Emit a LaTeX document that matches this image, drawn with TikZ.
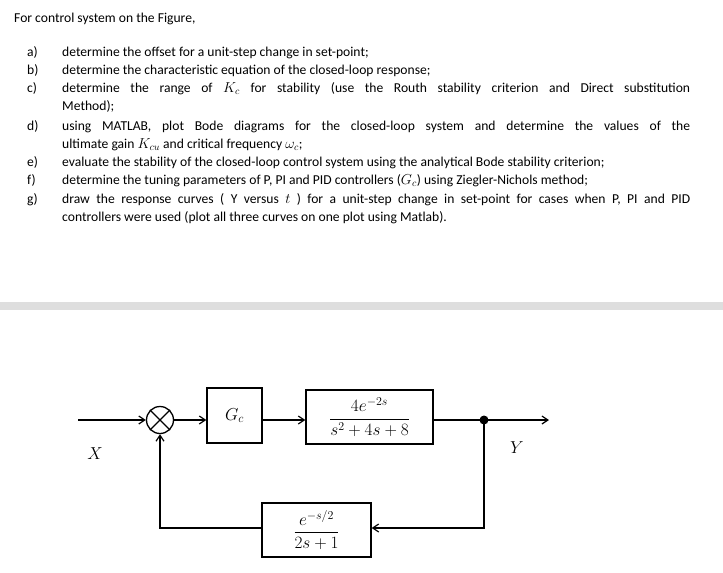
\documentclass[tikz,border=0pt]{standalone}
\usepackage{amsmath}
\usepackage{fontspec}
\setmainfont{Carlito}
\usetikzlibrary{arrows.meta}
\begin{document}
\begin{tikzpicture}[x=1pt,y=-1pt,
  txt/.style={anchor=base west,inner sep=0pt,font=\fontsize{13.6}{15}\selectfont},
  blk/.style={draw,line width=1.3pt,inner sep=0pt},
  ln/.style={line width=1.3pt},
  arr/.style={ln,-{Straight Barb[length=6pt,width=8pt,line width=1.2pt]}},
  mth/.style={font=\fontsize{18}{20}\selectfont}]
\useasboundingbox (0,0) rectangle (723,573);
\fill[black!13] (0,302) rectangle (723,310);
\node[txt] (t0) at (14,22) {For control system on the Figure,};
\def\J#1{\makebox[628pt][s]{#1}}
\foreach \l/\y in {a/56,b/74,c/92,d/130,e/166,f/184,g/203}
  \node[txt] (l\l) at (27,\y) {\l)};
\node[txt] (ta) at (62,56) {determine the offset for a unit-step change in set-point;};
\node[txt] (tb) at (62,74) {determine the characteristic equation of the closed-loop response;};
\node[txt] (tc) at (62,92) {\J{determine the range of $K_c$ for stability (use the Routh stability criterion and Direct substitution}};
\node[txt] (tc2) at (62,110) {Method);};
\node[txt] (td) at (62,130) {\J{using MATLAB, plot Bode diagrams for the closed-loop system and determine the values of the}};
\node[txt] (td2) at (62,148) {ultimate gain $K_{cu}$ and critical frequency $\omega_c$;};
\node[txt] (te) at (62,166) {evaluate the stability of the closed-loop control system using the analytical Bode stability criterion;};
\node[txt] (tf) at (62,184) {determine the tuning parameters of P, PI and PID controllers ($G_c$) using Ziegler-Nichols method;};
\node[txt] (tg) at (62,203) {\J{draw the response curves ( Y versus $t$ ) for a unit-step change in set-point for cases when P, PI and PID}};
\node[txt] (tg2) at (62,221) {controllers were used (plot all three curves on one plot using Matlab).};

\coordinate (in) at (78,420);
\node[draw,circle,line width=1.3pt,minimum size=27pt,inner sep=0pt] (sum) at (160,420) {};
\draw[line width=1.3pt] (sum.north west)--(sum.south east) (sum.north east)--(sum.south west);
\node[blk,minimum width=55pt,minimum height=55pt,mth] (gc) at (234.5,415.5) {$G_c$};
\node[blk,minimum width=127pt,minimum height=54pt,mth] (gp) at (369.5,417) {$\dfrac{4e^{-2s}}{s^2+4s+8}$};
\node[blk,minimum width=109pt,minimum height=54pt,mth] (h) at (316.5,530) {$\dfrac{e^{-s/2}}{2s+1}$};
\fill (484,420) circle (4.5pt) coordinate (j);
\coordinate (out) at (549,420);
\draw[arr] (in) -- (sum.west);
\draw[arr] (sum.east) -- (gc.west |- sum.east);
\draw[arr] (gc.east |- sum.east) -- (gp.west |- sum.east);
\draw[ln] (gp.east |- sum.east) -- (j);
\draw[arr] (j) -- (out);
\draw[arr] (j) |- (h.east |- 0,528);
\draw[arr] (h.west |- 0,528) -| (sum.south);
\node[mth,anchor=base] (X) at (95,459) {$X$};
\node[mth,anchor=base] (Y) at (517,453) {$Y$};
\end{tikzpicture}
\end{document}
